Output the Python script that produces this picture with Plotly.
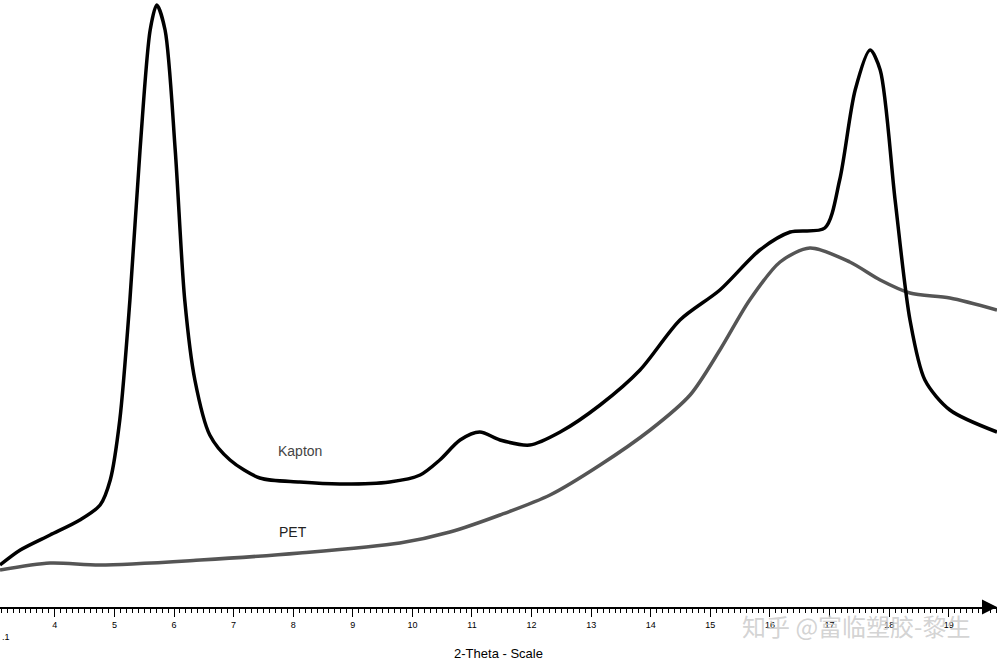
import plotly.graph_objects as go

kapton_x = [3.08,3.42,3.92,4.42,4.76,4.93,5.09,5.26,5.43,5.60,5.71,5.85,6.02,6.18,6.35,6.60,6.94,7.44,8.11,8.78,9.62,10.13,10.46,10.80,11.13,11.47,11.97,12.48,13.15,13.82,14.49,15.16,15.83,16.34,16.92,17.17,17.43,17.68,17.85,18.10,18.35,18.60,19.02,19.81]
kapton_y = [42,57,72,87,102,127,187,307,457,577,602,577,457,307,227,172,147,129,125,123,125,132,147,167,175,167,162,175,202,237,287,317,357,375,379,427,517,557,537,407,287,227,197,175]
pet_x = [3.08,3.92,4.76,6.44,8.11,9.79,10.63,11.47,12.31,13.15,13.99,14.66,15.16,15.66,16.17,16.67,17.34,17.85,18.35,19.02,19.81]
pet_y = [37,44,42,47,54,64,75,92,112,142,177,212,257,307,345,359,345,327,314,309,297]
tick_vals = list(range(4, 20))
tick_text = [str(v) for v in range(4, 20)]

fig = go.Figure()
fig.add_trace(go.Scatter(x=pet_x, y=pet_y, mode="lines", line=dict(color="#555555", width=3.5, shape="spline", smoothing=0.8)))
fig.add_trace(go.Scatter(x=kapton_x, y=kapton_y, mode="lines", line=dict(color="#000000", width=3.5, shape="spline", smoothing=0.8)))
fig.add_annotation(x=8.11, y=156, text="Kapton", showarrow=False, font=dict(family="Liberation Sans", size=14, color="#444"))
fig.add_annotation(x=8.0, y=75, text="PET", showarrow=False, font=dict(family="Liberation Sans", size=14, color="#222"))
fig.add_annotation(xref="paper", yref="paper", x=0.0, y=-0.05, xanchor="left", yanchor="middle", text=".1", showarrow=False, font=dict(family="Liberation Sans", size=9, color="black"))
fig.add_annotation(x=19.81, y=0, ax=19.55, ay=0, axref="x", ayref="y", xref="x", yref="y", showarrow=True, arrowhead=2, arrowsize=1.5, arrowwidth=2, arrowcolor="black", text="")
fig.add_annotation(xref="paper", yref="paper", x=0.975, y=-0.03, xanchor="right", yanchor="middle", text="知乎 @富临塑胶-黎生", showarrow=False, font=dict(family="Noto Sans CJK SC", size=24, color="rgba(200,200,200,0.8)"))
fig.update_layout(width=997, height=663, margin=dict(l=0, r=0, t=0, b=56, autoexpand=False), plot_bgcolor="white", paper_bgcolor="white", showlegend=False,
    xaxis=dict(range=[3.08, 19.81], tickvals=tick_vals, ticktext=tick_text, showgrid=False, zeroline=False, showline=True, linecolor="black", linewidth=2,
               ticks="outside", ticklen=8, tickcolor="black", tickfont=dict(size=9, family="Liberation Sans", color="black"),
               minor=dict(dtick=0.1, ticks="outside", ticklen=4, tickcolor="black"),
               title=dict(text="2-Theta - Scale", font=dict(size=13, family="Liberation Sans", color="black"), standoff=20)),
    yaxis=dict(range=[0, 607], visible=False))
fig.write_html("out.html", config={"displayModeBar": False}, post_script="document.body.style.margin='0';document.body.style.overflow='hidden';")
